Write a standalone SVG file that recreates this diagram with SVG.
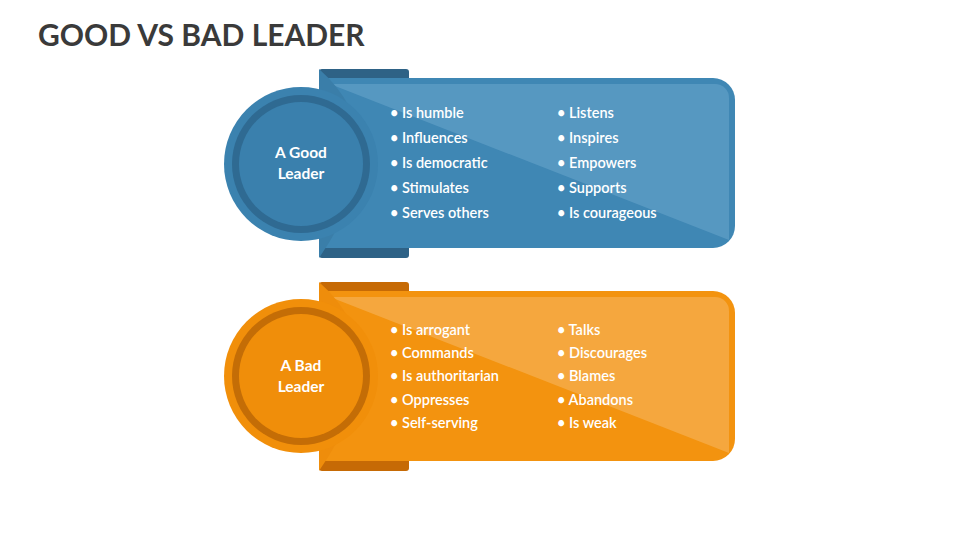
<svg xmlns="http://www.w3.org/2000/svg" width="960" height="540" viewBox="0 0 960 540">
<style>
.t{font-family:Lato,"Open Sans","Liberation Sans",sans-serif;font-size:14.5px;fill:#fff;font-weight:600}
.h{font-family:Lato,"Open Sans","Liberation Sans",sans-serif;font-size:15.5px;fill:#fff;font-weight:700;text-anchor:middle}
</style>
<rect width="960" height="540" fill="#fff"/>
<text x="38" y="46" font-family="Lato,'Open Sans','Liberation Sans',sans-serif" font-weight="700" font-size="30" fill="#3a3a3a">GOOD VS BAD LEADER</text>
<g id="good">
<rect x="319" y="69" width="90" height="189" rx="3" fill="#2e6286"/>
<path d="M319 78 H713 A22 22 0 0 1 735 100 V226 A22 22 0 0 1 713 248 H319 Z" fill="#3f87b4"/>
<path d="M330 84 H715 A14 14 0 0 1 729 98 V240 L330 84 Z" fill="#5c9cc4" opacity="0.8"/>
<path d="M319 69 Q400 140 319 258 Z" fill="#3a7ea9"/>
<circle cx="301" cy="164" r="77" fill="#3b82af"/>
<circle cx="301" cy="164" r="69" fill="#2f6a92"/>
<circle cx="301" cy="164" r="62" fill="#3a80ad"/>
<text class="h" x="301" y="158">A Good</text>
<text class="h" x="301" y="179">Leader</text>
<g class="t">
<text x="390" y="118">•  Is humble</text><text x="390" y="143">•  Influences</text><text x="390" y="168">•  Is democratic</text><text x="390" y="193">•  Stimulates</text><text x="390" y="218">•  Serves others</text>
<text x="557" y="118">•  Listens</text><text x="557" y="143">•  Inspires</text><text x="557" y="168">•  Empowers</text><text x="557" y="193">•  Supports</text><text x="557" y="218">•  Is courageous</text>
</g>
</g>
<g id="bad">
<rect x="319" y="282" width="90" height="189" rx="3" fill="#c66a05"/>
<path d="M319 291 H713 A22 22 0 0 1 735 313 V439 A22 22 0 0 1 713 461 H319 Z" fill="#f3930f"/>
<path d="M330 297 H715 A14 14 0 0 1 729 311 V453 L330 297 Z" fill="#f5ad4a" opacity="0.8"/>
<path d="M319 282 Q400 353 319 471 Z" fill="#ef8d0b"/>
<circle cx="301" cy="376" r="77" fill="#f18f0a"/>
<circle cx="301" cy="376" r="69" fill="#c46d06"/>
<circle cx="301" cy="376" r="62" fill="#f08e0a"/>
<text class="h" x="301" y="371">A Bad</text>
<text class="h" x="301" y="392">Leader</text>
<g class="t">
<text x="390" y="335">•  Is arrogant</text><text x="390" y="358">•  Commands</text><text x="390" y="381">•  Is authoritarian</text><text x="390" y="405">•  Oppresses</text><text x="390" y="428">•  Self-serving</text>
<text x="557" y="335">•  Talks</text><text x="557" y="358">•  Discourages</text><text x="557" y="381">•  Blames</text><text x="557" y="405">•  Abandons</text><text x="557" y="428">•  Is weak</text>
</g>
</g>
</svg>
